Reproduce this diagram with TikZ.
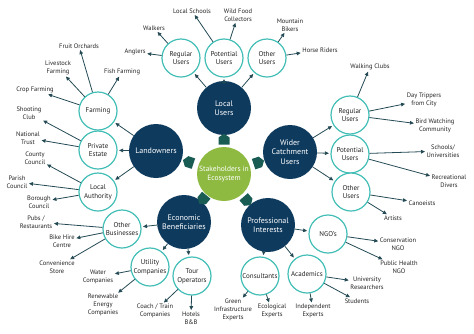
\documentclass[tikz,border=0pt]{standalone}
\usepackage{fontspec}
\setmainfont{PT Sans}
\usetikzlibrary{arrows.meta,shapes.symbols}
\definecolor{navyCol}{RGB}{14,58,94}
\definecolor{hubCol}{RGB}{142,186,66}
\definecolor{ringCol}{RGB}{66,190,182}
\definecolor{tipCol}{RGB}{24,92,84}
\definecolor{lineCol}{RGB}{36,74,84}
\definecolor{txtCol}{RGB}{35,35,35}
\tikzset{
  hub/.style={circle,fill=hubCol,text=white,minimum size=54pt,inner sep=0pt,
              align=center,font=\fontsize{7.5}{9}\selectfont},
  grp/.style={circle,fill=navyCol,text=white,minimum size=54pt,inner sep=0pt,
              align=center,font=\fontsize{8}{9.5}\selectfont},
  sub/.style={circle,draw=ringCol,line width=1.2pt,fill=white,text=txtCol,
              minimum size=38pt,inner sep=0pt,align=center,font=\fontsize{7}{8.6}\selectfont},
  leaf/.style={text=txtCol,align=center,inner sep=1pt,font=\fontsize{6.5}{7.8}\selectfont},
  link/.style={-{Triangle[length=4pt,width=3.6pt]},lineCol,line width=0.8pt,shorten >=0.5pt},
  house/.style={signal,signal to=east,signal pointer angle=110,fill=tipCol,
                minimum width=11pt,minimum height=11pt,inner sep=0pt},
}
\begin{document}
\begin{tikzpicture}[x=1pt,y=-1pt]
  \useasboundingbox (0,0) rectangle (474,333);
  % centre and groups
  \node[hub] (ctr) at (224,174) {Stakeholders in\\Ecosystem};
  \node[grp] (lu) at (224,108) {Local\\Users};
  \node[grp] (lo) at (156,151) {Landowners};
  \node[grp] (wc) at (290,152) {Wider\\Catchment\\Users};
  \node[grp] (eb) at (184,222) {Economic\\Beneficiaries};
  \node[grp] (pi) at (268,225) {Professional\\Interests};
  \foreach \g in {lu,lo,wc,eb,pi}
    \path (ctr) -- node[house,sloped,allow upside down] {} (\g);
  % second ring
  \node[sub] (lreg) at (181,58) {Regular\\Users};
  \node[sub] (lpot) at (224,58) {Potential\\Users};
  \node[sub] (loth) at (267,58) {Other\\Users};
  \node[sub] (farm) at (98,111) {Farming};
  \node[sub] (estate) at (98,150) {Private\\Estate};
  \node[sub] (auth) at (98,192) {Local\\Authority};
  \node[sub] (obus) at (122,229) {Other\\Businesses};
  \node[sub] (util) at (150,267) {Utility\\Companies};
  \node[sub] (tour) at (192,276) {Tour\\Operators};
  \node[sub] (consult) at (260,276) {Consultants};
  \node[sub] (acad) at (307,274) {Academics};
  \node[sub] (ngo) at (328,234) {NGO's};
  \node[sub] (wreg) at (350,115) {Regular\\Users};
  \node[sub] (wpot) at (350,154) {Potential\\Users};
  \node[sub] (woth) at (351,192) {Other\\Users};
  \foreach \a/\b in {lu/lreg,lu/lpot,lu/loth,lo/farm,lo/estate,lo/auth,
                     eb/obus,eb/util,eb/tour,pi/consult,pi/acad,pi/ngo,
                     wc/wreg,wc/wpot,wc/woth}
    \draw[link,shorten >=1.5pt] (\a) -- (\b);
  % outer labels
  \node[leaf] (walkers) at (154,28) {Walkers};
  \node[leaf] (anglers) at (135,52) {Anglers};
  \node[leaf] (lschool) at (192,11) {Local Schools};
  \node[leaf] (wildfood) at (238,15) {Wild Food\\Collectors};
  \node[leaf] (mbikers) at (290,25) {Mountain\\Bikers};
  \node[leaf] (horse) at (320,50) {Horse Riders};
  \node[leaf] (fruit) at (79,46) {Fruit Orchards};
  \node[leaf] (livestock) at (58,68) {Livestock\\Farming};
  \node[leaf] (fish) at (122,72) {Fish Farming};
  \node[leaf] (crop) at (35,90) {Crop Farming};
  \node[leaf] (shoot) at (29,113) {Shooting\\Club};
  \node[leaf] (ntrust) at (28,138) {National\\Trust};
  \node[leaf] (county) at (35,158) {County\\Council};
  \node[leaf] (parish) at (17,182) {Parish\\Council};
  \node[leaf] (borough) at (39,202) {Borough\\Council};
  \node[leaf] (pubs) at (36,222) {Pubs /\\Restaurants};
  \node[leaf] (bike) at (62,241) {Bike Hire\\Centre};
  \node[leaf] (conv) at (57,267) {Convenience\\Store};
  \node[leaf] (water) at (98,277) {Water\\Companies};
  \node[leaf] (renew) at (103,305) {Renewable\\Energy\\Companies};
  \node[leaf] (coach) at (155,311) {Coach / Train\\Companies};
  \node[leaf] (hotels) at (191,318) {Hotels\\B\&B};
  \node[leaf] (greenx) at (233,310) {Green\\Infrastructure\\Experts};
  \node[leaf] (ecol) at (272,311) {Ecological\\Experts};
  \node[leaf] (indep) at (313,311) {Independent\\Experts};
  \node[leaf] (students) at (357,301) {Students};
  \node[leaf] (univ) at (367,283) {University\\Researchers};
  \node[leaf] (pubh) at (399,267) {Public Health\\NGO};
  \node[leaf] (conserv) at (398,244) {Conservation\\NGO};
  \node[leaf] (artists) at (393,218) {Artists};
  \node[leaf] (canoe) at (422,203) {Canoeists};
  \node[leaf] (divers) at (449,181) {Recreational\\Divers};
  \node[leaf] (schools) at (443,151) {Schools/\\Universities};
  \node[leaf] (bird) at (435,126) {Bird Watching\\Community};
  \node[leaf] (day) at (424,100) {Day Trippers\\from City};
  \node[leaf] (walking) at (370,67) {Walking Clubs};
  \foreach \a/\b in {lreg/walkers,lreg/anglers,lpot/lschool,lpot/wildfood,
                     loth/mbikers,loth/horse,farm/fruit,farm/livestock,farm/fish,
                     farm/crop,estate/shoot,estate/ntrust,auth/county,auth/parish,
                     auth/borough,obus/pubs,obus/bike,obus/conv,util/water,util/renew,
                     tour/coach,tour/hotels,consult/greenx,consult/ecol,acad/indep,
                     acad/students,acad/univ,ngo/pubh,ngo/conserv,woth/artists,
                     woth/canoe,wpot/divers,wpot/schools,wreg/bird,wreg/day,wreg/walking}
    \draw[link] (\a) -- (\b);
\end{tikzpicture}
\end{document}
